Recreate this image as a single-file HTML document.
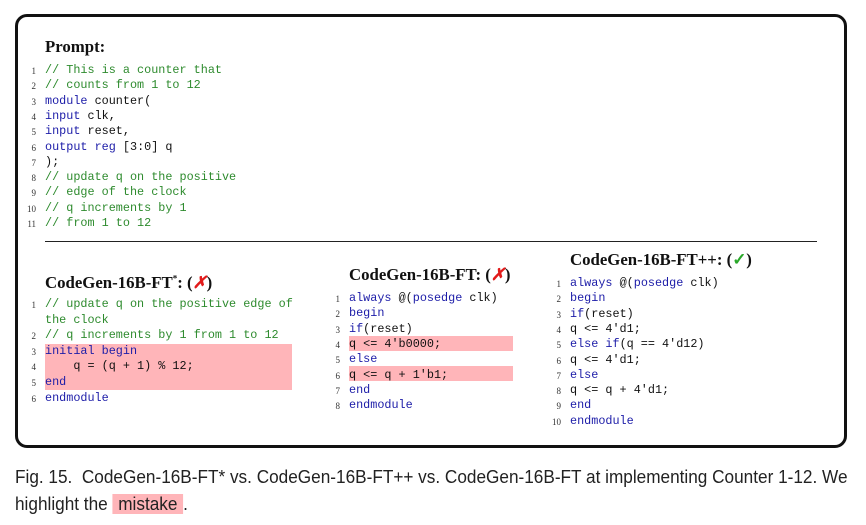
<!DOCTYPE html>
<html><head><meta charset="utf-8"><style>
body{margin:0;width:866px;height:525px;background:#fff;position:relative;overflow:hidden;font-family:"Liberation Mono",monospace;}
.box{position:absolute;left:15px;top:14px;width:826px;height:428px;border:3px solid #111;border-radius:12px;}
.h{position:absolute;font-family:"Liberation Serif",serif;font-weight:bold;font-size:16.8px;color:#111;white-space:nowrap;}
.l{position:absolute;font-size:11.8px;line-height:15px;white-space:pre;color:#111;}
.n{position:absolute;font-family:"Liberation Serif",serif;font-size:9px;line-height:15px;color:#333;text-align:right;width:14px;}
.c{color:#2e8b2e}.k{color:#1c1ca8}
.hl{position:absolute;background:#ffb5b9;}
.x{color:#e21b1b;font-style:italic}.ok{color:#2aa82a}
.cap{position:absolute;left:15px;font-family:"Liberation Sans",sans-serif;font-size:18px;color:#222;white-space:nowrap;transform-origin:left;}
</style></head><body>
<div class="box"></div>
<div class="h" style="left:45px;top:37px">Prompt:</div>
<div class="hl" style="left:45px;top:344px;width:247px;height:46px"></div>
<div class="hl" style="left:349px;top:336px;width:164px;height:15px"></div>
<div class="hl" style="left:349px;top:366px;width:164px;height:15px"></div>
<div style="position:absolute;left:45px;top:241px;width:772px;height:1px;background:#222"></div>
<div class="h" style="left:45px;top:272px">CodeGen-16B-FT<sup style="font-size:9px">*</sup>: (<span class="x">✗</span>)</div>
<div class="h" style="left:349px;top:264px">CodeGen-16B-FT: (<span class="x">✗</span>)</div>
<div class="h" style="left:570px;top:249px">CodeGen-16B-FT++: (<span class="ok">✓</span>)</div>
<div id="code"></div>
<div class="cap" style="top:467px;transform:scaleX(0.955)">Fig. 15.&nbsp; CodeGen-16B-FT* vs. CodeGen-16B-FT++ vs. CodeGen-16B-FT at implementing Counter 1-12. We</div>
<div class="cap" style="top:494px;transform:scaleX(0.955)">highlight the <span style="background:#ffb5b9;padding:0 6px">mistake</span>.</div>
<script>
function col(x,y0,step,lines){let h='';lines.forEach((t,i)=>{const y=y0+i*step;if(t[0]!=='')h+=`<div class="n" style="left:${x-23}px;top:${y-6}px">${t[0]}</div>`;h+=`<div class="l" style="left:${x}px;top:${y-7}px">${t[1]}</div>`;});document.getElementById('code').innerHTML+=h;}
const C=s=>`<span class="c">${s}</span>`,K=s=>`<span class="k">${s}</span>`;
col(45,70,15.3,[[1,C('// This is a counter that')],[2,C('// counts from 1 to 12')],[3,K('module')+' counter('],[4,K('input')+' clk,'],[5,K('input')+' reset,'],[6,K('output')+' '+K('reg')+' [3:0] q'],[7,');'],[8,C('// update q on the positive')],[9,C('// edge of the clock')],[10,C('// q increments by 1')],[11,C('// from 1 to 12')]]);
col(45,304,15.6,[[1,C('// update q on the positive edge of')],['',C('the clock')],[2,C('// q increments by 1 from 1 to 12')],[3,K('initial begin')],[4,'    q = (q + 1) % 12;'],[5,K('end')],[6,K('endmodule')]]);
col(349,298,15.3,[[1,K('always')+' @('+K('posedge')+' clk)'],[2,K('begin')],[3,K('if')+'(reset)'],[4,"q &lt;= 4'b0000;"],[5,K('else')],[6,"q &lt;= q + 1'b1;"],[7,K('end')],[8,K('endmodule')]]);
col(570,283,15.3,[[1,K('always')+' @('+K('posedge')+' clk)'],[2,K('begin')],[3,K('if')+'(reset)'],[4,"q &lt;= 4'd1;"],[5,K('else if')+"(q == 4'd12)"],[6,"q &lt;= 4'd1;"],[7,K('else')],[8,"q &lt;= q + 4'd1;"],[9,K('end')],[10,K('endmodule')]]);
</script>
</body></html>
